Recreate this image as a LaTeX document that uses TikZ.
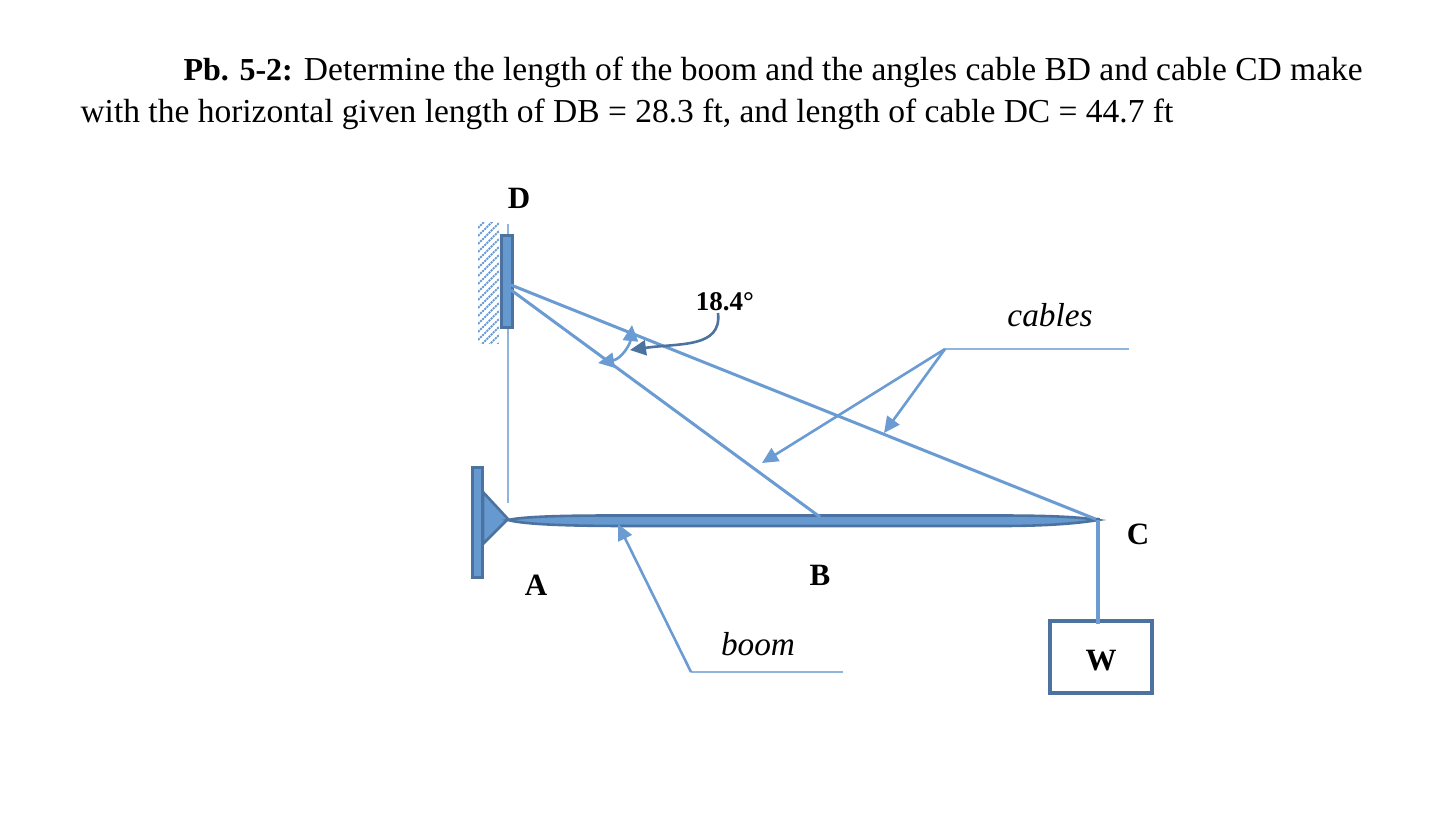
\documentclass[tikz,border=0pt]{standalone}
\usepackage{fontspec}
\setmainfont{Liberation Serif}
\usetikzlibrary{arrows.meta}
\definecolor{cablecol}{HTML}{6A9BD3}
\definecolor{thincol}{HTML}{8FB5DF}
\definecolor{darkcol}{HTML}{4C739F}
\definecolor{fillcol}{HTML}{6699D0}

\begin{document}
\begin{tikzpicture}[x=1pt, y=-1pt, line width=1pt,
    cable/.style={cablecol, line width=3pt},
    thin line/.style={thincol, line width=1.4pt},
    leader/.style={cablecol, line width=2.6pt, -{Triangle[length=16pt, width=15pt]}},
    plate/.style={draw=darkcol, fill=fillcol, line width=2.6pt},
    title text/.style={anchor=base west, font=\fontsize{33.5}{40}\selectfont, inner sep=0pt},
    letter/.style={font=\fontsize{31}{36}\selectfont\bfseries, inner sep=0pt},
    note/.style={font=\fontsize{33.3}{40}\selectfont\itshape, inner sep=0pt}]
    \useasboundingbox (0,0) rectangle (1456,820);

    % Title
    \node[title text] (line1) at (183,80) {{\fontsize{32}{40}\selectfont\bfseries Pb. 5-2:} Determine the length of the boom and the angles cable BD and cable CD make};
    \node[title text] (line2) at (80,122) {with the horizontal given length of DB = 28.3 ft, and length of cable DC = 44.7 ft};

    % Points
    \coordinate (Dc) at (511,285);
    \coordinate (Db) at (511,290);
    \coordinate (Bpt) at (820,517);
    \coordinate (Cpt) at (1098,520);
    \coordinate (Apt) at (508,520);
    \coordinate (cablefork) at (945,349);
    \coordinate (cableend) at (1129,349);
    \coordinate (cabletipa) at (762,463);
    \coordinate (cabletipb) at (884,433);
    \coordinate (boomfork) at (691,672);
    \coordinate (boomend) at (843,672);
    \coordinate (boomtip) at (618,524);
    \coordinate (angtop) at (632,325);
    \coordinate (angbot) at (598,363);
    \coordinate (angstart) at (718,313);
    \coordinate (angtip) at (630,350);

    % Wall hatching
    \begin{scope}
        \clip (478,222) rectangle (499,343);
        \foreach \y in {222,230,...,366}
            \draw[cablecol, line width=2pt, dash pattern=on 2pt off 1pt] (476,\y) -- (501,\y-25);
    \end{scope}

    % Centre line
    \draw[thin line] (508,224) -- (508,503);

    % Supports
    \draw[plate] (501.5,235.5) rectangle (512.5,327.5);
    \draw[plate] (483,492) -- (508,519) -- (483,544) -- cycle;
    \draw[plate] (472.5,467.5) rectangle (482.5,577.5);

    % Boom
    \draw[plate] (Apt) .. controls (530,515) and (600,515.5) .. (640,515.5)
        -- (1000,515.5) .. controls (1050,515.5) and (1080,517) .. (Cpt)
        .. controls (1080,523) and (1050,526) .. (1000,526) -- (640,526)
        .. controls (600,526) and (530,526) .. (Apt) -- cycle;

    % Cables
    \draw[cable] (Dc) -- (Cpt);
    \draw[cable] (Db) -- (Bpt);
    \fill[darkcol] (Cpt) circle (2.5pt);

    % Weight
    \node[draw=darkcol, line width=3.4pt, minimum width=102pt, minimum height=72pt, inner sep=0pt] (weight) at (1101,657) {};
    \draw[cablecol, line width=3.4pt] (Cpt) -- (1098,624);
    \node[letter] (W) at (1101,661) {W};

    % Angle
    \draw[cablecol, line width=2.6pt, {Triangle[length=16pt, width=15pt]}-{Triangle[length=16pt, width=15pt]}] (angtop) .. controls (630,345) and (621,359) .. (angbot);
    \draw[darkcol, line width=2.6pt, -{Triangle[length=16pt, width=15pt]}] (angstart) .. controls (722,348) and (680,343) .. (angtip);

    % Leaders
    \draw[thin line] (cablefork) -- (cableend);
    \draw[leader] (cablefork) -- (cabletipa);
    \draw[leader] (cablefork) -- (cabletipb);
    \draw[thin line] (boomfork) -- (boomend);
    \draw[leader] (boomfork) -- (boomtip);

    % Labels
    \node[letter] (D) at (519,198) {D};
    \node[letter, font=\fontsize{27}{32}\selectfont\bfseries] (ang) at (725,302) {18.4°};
    \node[note] (cables) at (1050,315) {cables};
    \node[letter] (C) at (1138,534) {C};
    \node[letter] (B) at (820,575) {B};
    \node[letter] (A) at (536,585) {A};
    \node[note] (boom) at (758,644) {boom};
\end{tikzpicture}
\end{document}
